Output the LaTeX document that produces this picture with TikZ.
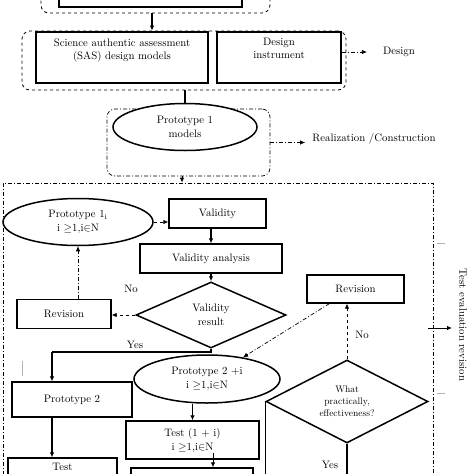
\documentclass[tikz,border=0pt]{standalone}
\usetikzlibrary{shapes.geometric,arrows.meta,calc}
\begin{document}
\begin{tikzpicture}[x=1pt,y=-1pt,
  box/.style={draw,line width=1.3pt,rectangle,inner sep=0pt,align=center,font=\fontsize{10.8}{14}\selectfont},
  ell/.style={draw,line width=1.5pt,ellipse,inner sep=0pt,align=center,font=\fontsize{10.8}{14.5}\selectfont},
  dia/.style={draw,line width=1.5pt,diamond,inner sep=0pt,align=center},
  txt/.style={font=\fontsize{10.8}{13}\selectfont,align=center,inner sep=0pt},
  arr/.style={line width=1.3pt,-{Latex[length=5pt,width=4.5pt]}},
  darr/.style={line width=0.8pt,dashed,-{Latex[length=5pt,width=4.5pt]}},
  ddarr/.style={line width=0.7pt,dash pattern=on 4pt off 2pt on 1pt off 2pt,-{Latex[length=5pt,width=4.5pt]}},
  grp/.style={draw,line width=0.8pt,rounded corners=8pt,inner sep=0pt},
  ddline/.style={line width=0.7pt,dash pattern=on 4pt off 2pt on 1pt off 2pt},
  tick/.style={draw=gray!60,line width=0.6pt}]
\useasboundingbox (0,0) rectangle (474,474);
\begin{scope}
\clip (0,0) rectangle (474,474);
% top group
\node[grp,dashed,minimum width=229,minimum height=53] (topg) at (155.5,-13.5) {};
\node[box,minimum width=183,minimum height=40] (topbox) at (150.5,-13) {};
% design group
\node[grp,dashed,minimum width=324,minimum height=59] (sasg) at (184,60.5) {};
\node[box,minimum width=172,minimum height=51] (sas) at (122,57.5) {};
\node[txt] (sast) at (122,50.5) {Science authentic assessment\\(SAS) design models};
\node[box,minimum width=124,minimum height=51] (desi) at (279,57.5) {};
\node[txt] (desit) at (279,48.5) {Design\\instrument};
\node[txt] (dlab) at (399,52) {Design};
\coordinate (c1) at (152,0);
\draw[arr] (c1 |- topg.south) -- (c1 |- sasg.north);
\draw[ddarr,shorten >=16pt] (desi.east |- dlab.west) -- (dlab.west);
% prototype 1
\node[grp,ddline,minimum width=163,minimum height=67] (p1g) at (188.5,142.5) {};
\node[ell,fill=white,minimum width=144,minimum height=47] (p1) at (185,127) {Prototype 1\\models};
\draw[line width=1.5pt] (sasg.south -| p1.north) -- (p1.north);
\node[txt] (rlab) at (374,139) {Realization /Construction};
\draw[ddarr,shorten >=7pt] (p1g.east) -- (p1g.east -| rlab.west);
% big frame
\node[draw,ddline,minimum width=430,minimum height=337,inner sep=0pt] (big) at (218,351.5) {};
\coordinate (c3) at (182,0);
\draw[line width=1pt,-{Latex[length=5pt,width=4.5pt]}] (c3 |- p1g.south) -- (c3 |- big.north);
% inside
\node[ell,minimum width=150,minimum height=47] (pA) at (78,222) {Prototype 1$_{\mathrm i}$\\i $\ge$1,i$\in$N};
\node[box,minimum width=97,minimum height=29] (val) at (217.5,213.5) {Validity};
\node[box,minimum width=142,minimum height=29] (van) at (211,258.5) {Validity analysis};
\node[dia,minimum width=150,minimum height=66,aspect=2.27,font=\fontsize{10.8}{13.5}\selectfont] (vr) at (211,315) {Validity\\result};
\node[box,minimum width=94,minimum height=29] (revL) at (64,314) {Revision};
\node[box,minimum width=97,minimum height=28] (revR) at (355.5,289) {Revision};
\node[ell,minimum width=146,minimum height=48] (pB) at (207,379) {Prototype 2 +i\\i $\ge$1,i$\in$N};
\node[dia,minimum width=162,minimum height=83,aspect=1.95,font=\fontsize{9.5}{11.8}\selectfont] (wp) at (347,401.5) {What\\practically,\\effectiveness?};
\node[box,minimum width=120,minimum height=35] (p2) at (72,399.5) {Prototype 2};
\node[box,minimum width=109,minimum height=24] (test) at (62.5,470) {};
\node[txt] (testt) at (62.5,467) {Test};
\node[box,minimum width=133,minimum height=38] (t1i) at (192.5,440) {Test (1 + i)\\i $\ge$1,i$\in$N};
\node[box,minimum width=122,minimum height=24] (bot) at (192,480) {};
% labels
\node[txt] (no1) at (131,289) {No};
\node[txt] (yes1) at (135,345) {Yes};
\node[txt] (no2) at (362,335) {No};
\node[txt] (yes2) at (330,465) {Yes};
\node[txt,rotate=-90] (tlab) at (463,325) {Test evaluation revision};
% connectors
\draw[darr] (pA.east) -- (val.west |- pA.east);
\draw[arr] (van.north |- val.south) -- (van.north);
\draw[arr] (van.south) -- (vr.north);
\draw[darr] (vr.west) -- (revL.east |- vr.west);
\draw[ddarr] (revL.north -| pA.south) -- (pA.south);
\coordinate (yc) at (52,352);
\draw[line width=1.3pt] (vr.south) |- (yc);
\draw[arr] (yc) -- (yc |- p2.north);
\draw[arr] (yc |- p2.south) -- (yc |- test.north);
\draw[ddarr] ($(revR.south west)+(23,0)$) -- (pB.31);
\draw[darr] (wp.north) -- (wp.north |- revR.south);
\coordinate (wb) at (0,480);
\draw[line width=1.5pt] (wp.west) -- (wp.west |- wb);
\draw[line width=1.5pt] (wp.south) -- (wp.south |- wb);
\draw[arr] (t1i.north |- pB.south) -- (t1i.north);
\coordinate (ta) at (213,453);
\draw[line width=1pt,-{Latex[length=5pt,width=4.5pt]}] (ta) -- (ta |- bot.north);
\coordinate (tev1) at (428,328);
\coordinate (tev2) at (452,328);
\draw[line width=0.8pt,-{Latex[length=5pt,width=4.5pt]}] (tev1) -- (tev2);
% gray ticks
\coordinate (g1) at (437,243);
\coordinate (g2) at (437,393);
\coordinate (g3) at (22,361);
\draw[tick] (g1) -- ++(8,0);
\draw[tick] (g2) -- ++(8,0);
\draw[tick] (g3) -- ++(0,15);
\end{scope}
\end{tikzpicture}
\end{document}
